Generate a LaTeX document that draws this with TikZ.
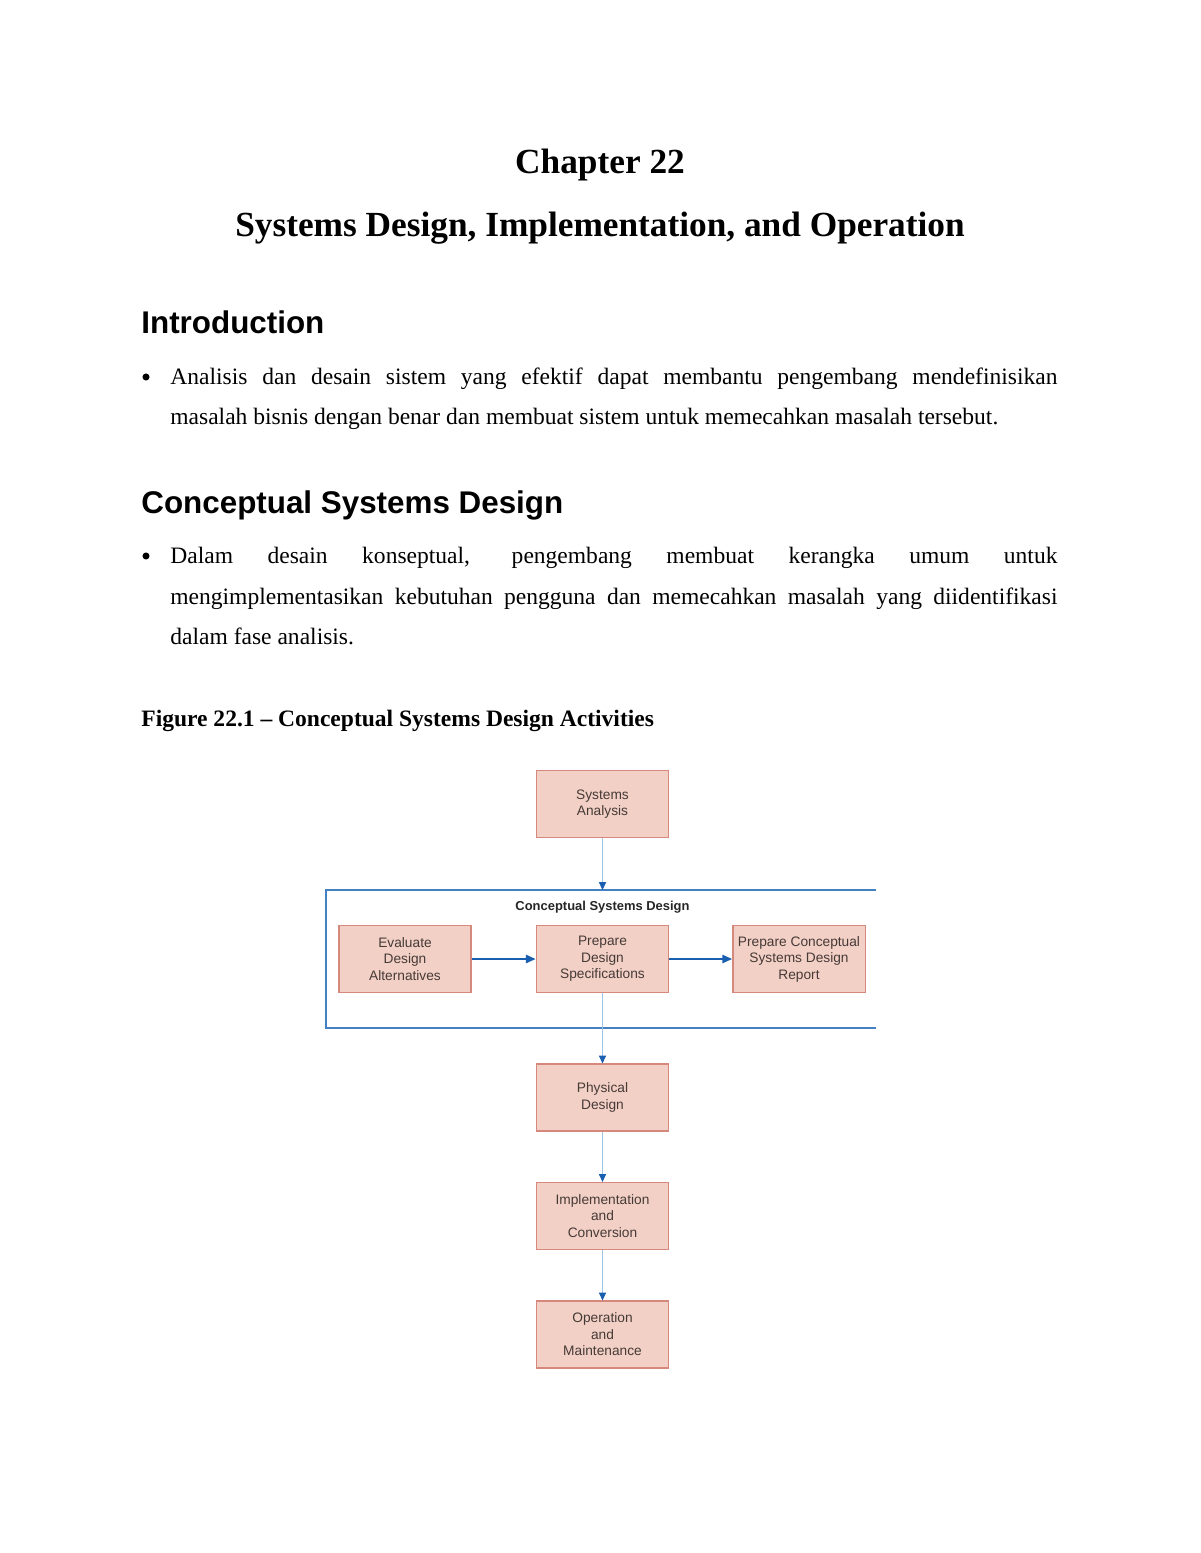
\documentclass[tikz,border=0pt]{standalone}
\usepackage{fontspec}
\setmainfont{Liberation Serif}
\setsansfont{Liberation Sans}
\usetikzlibrary{arrows.meta}
\definecolor{boxfill}{RGB}{242,208,198}
\definecolor{boxline}{RGB}{214,136,124}
\definecolor{frameblue}{RGB}{68,128,196}
\definecolor{lineblue}{RGB}{160,196,230}
\definecolor{tipblue}{RGB}{26,94,176}
\definecolor{boxtext}{RGB}{70,58,54}
\begin{document}
\begin{tikzpicture}[x=0.51pt,y=-0.51pt,
  stagebox/.style={draw=boxline, line width=0.7pt, fill=boxfill, minimum width=67.5pt, minimum height=34pt, inner sep=1pt, align=center, font=\sffamily\fontsize{7}{8.4}\selectfont, text=boxtext},
  flowline/.style={draw=lineblue, line width=0.5pt, -{Triangle[length=4pt,width=3.6pt,color=tipblue]}},
  sidearrow/.style={draw=tipblue, line width=0.9pt, -{Triangle[length=5pt,width=4.2pt]}},
  titletext/.style={anchor=base, inner sep=0pt, font=\bfseries\fontsize{18}{20}\selectfont},
  headtext/.style={anchor=base west, inner sep=0pt, font=\sffamily\bfseries\fontsize{16}{18}\selectfont},
  bodytext/.style={anchor=base west, inner sep=0pt, font=\fontsize{12}{14}\selectfont},
  captext/.style={anchor=base west, inner sep=0pt, font=\bfseries\fontsize{12}{14}\selectfont},
  bulletdot/.style={circle, fill=black, inner sep=0pt, minimum size=3.6pt}
]
\fill[white] (0,0) rectangle (1200,1553);
\useasboundingbox (0,0) rectangle (1200,1553);

% titles
\node[titletext] (t1) at (600,174) {Chapter 22};
\node[titletext] (t2) at (600,236) {Systems Design, Implementation, and Operation};

% introduction
\node[headtext] (h1) at (141,333) {Introduction};
\node[bulletdot] (b1) at (146,377) {};
\node[bodytext] (p1a) at (170,384) {\makebox[452.4pt][s]{Analisis dan desain sistem yang efektif dapat membantu pengembang mendefinisikan}};
\node[bodytext] (p1b) at (170,424) {masalah bisnis dengan benar dan membuat sistem untuk memecahkan masalah tersebut.};

% conceptual systems design
\node[headtext] (h2) at (141,513) {Conceptual Systems Design};
\node[bulletdot] (b2) at (146,556) {};
\node[bodytext] (p2a) at (170,563) {\makebox[452.4pt][s]{Dalam desain konseptual, pengembang membuat kerangka umum untuk}};
\node[bodytext] (p2b) at (170,604) {\makebox[452.4pt][s]{mengimplementasikan kebutuhan pengguna dan memecahkan masalah yang diidentifikasi}};
\node[bodytext] (p2c) at (170,644) {dalam fase analisis.};

\node[captext] (cap) at (141,726) {Figure 22.1 -- Conceptual Systems Design Activities};

% diagram
\draw[frameblue, line width=0.75pt] (876,890) -- (326,890) -- (326,1028) -- (876,1028);
\coordinate (ctop) at (602.5,890);
\node[anchor=center, inner sep=0pt, font=\sffamily\bfseries\fontsize{6.6}{8}\selectfont, text=black!85] (ctitle) at (602.5,907) {Conceptual Systems Design};

\node[stagebox] (sa) at (602.5,804) {Systems\\Analysis};
\node[stagebox] (eva) at (405,959) {Evaluate\\Design\\Alternatives};
\node[stagebox] (pds) at (602.5,959) {Prepare\\Design\\Specifications};
\node[stagebox] (rep) at (799,959) {Prepare Conceptual\\Systems Design\\Report};
\node[stagebox] (phy) at (602.5,1097.5) {Physical\\Design};
\node[stagebox] (imp) at (602.5,1216) {Implementation\\and\\Conversion};
\node[stagebox] (ops) at (602.5,1334.5) {Operation\\and\\Maintenance};

\draw[flowline] (sa.south) -- (ctop);
\draw[flowline] (pds.south) -- (phy.north);
\draw[flowline] (phy.south) -- (imp.north);
\draw[flowline] (imp.south) -- (ops.north);
\draw[sidearrow] (eva.east) -- (pds.west);
\draw[sidearrow] (pds.east) -- (rep.west);
\end{tikzpicture}
\end{document}
